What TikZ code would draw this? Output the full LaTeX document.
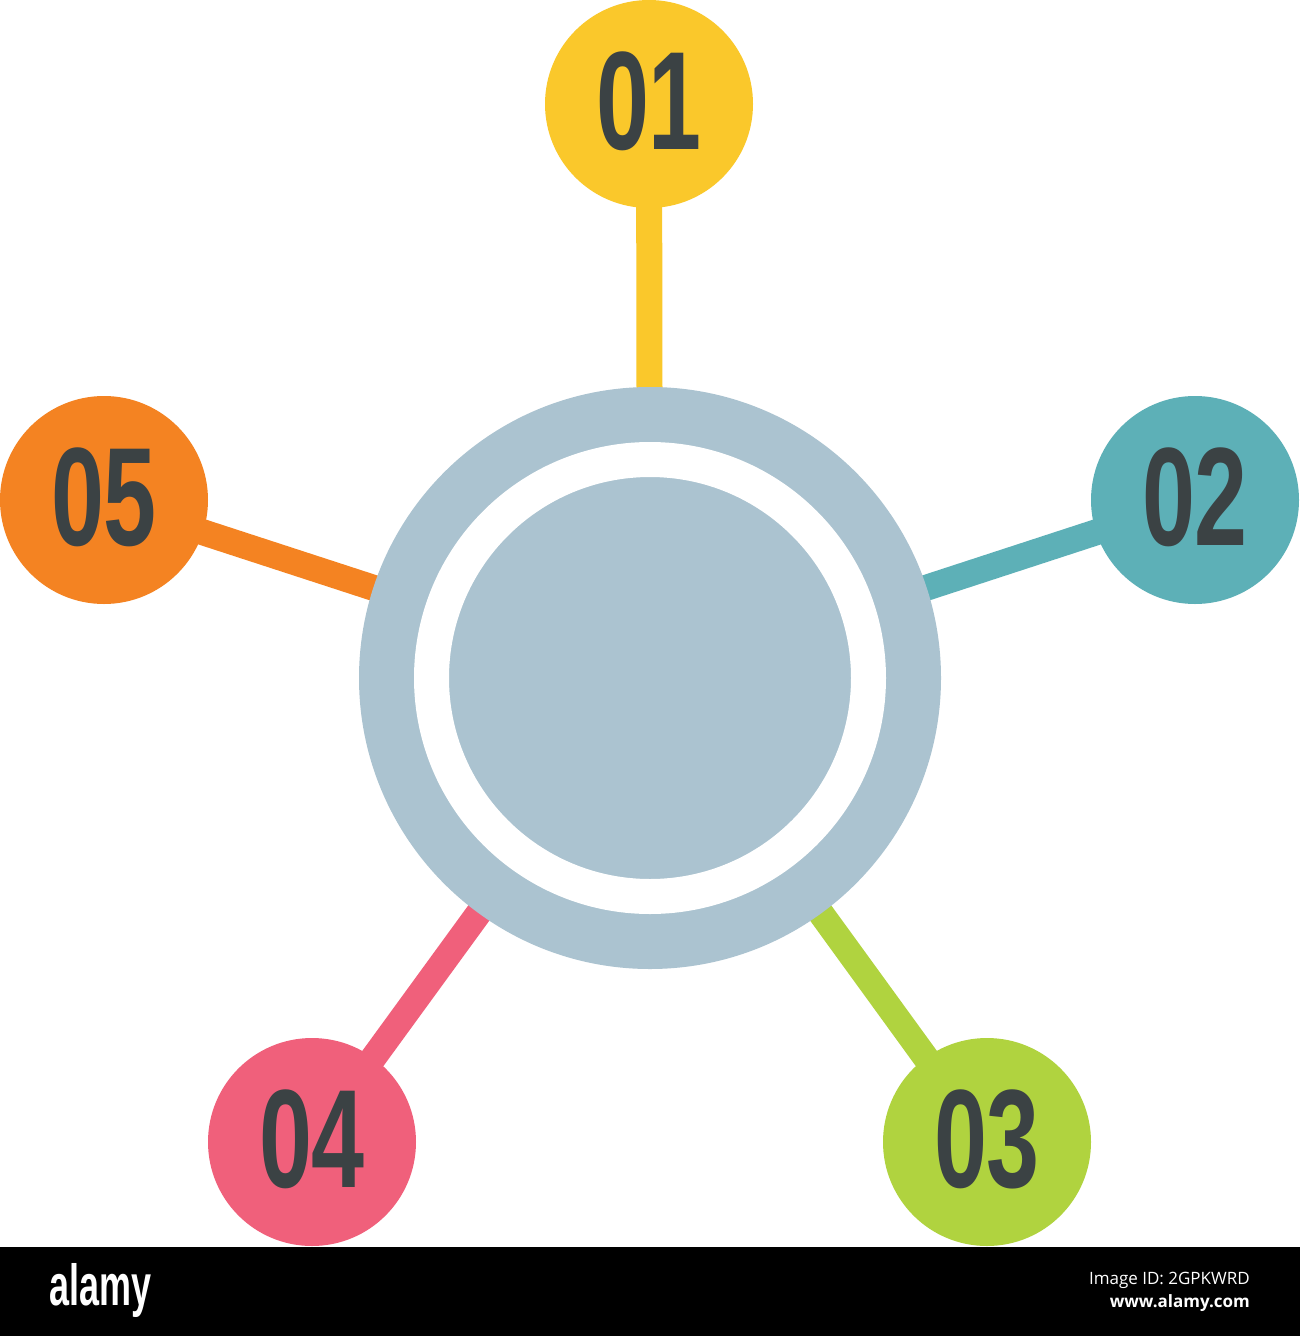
\documentclass[tikz,border=0pt]{standalone}
\usepackage{fontspec}
\setmainfont{Liberation Sans}
\newfontfamily\opensans{Open Sans}
\usetikzlibrary{backgrounds}
\definecolor{cyel}{HTML}{FAC82B}
\definecolor{cteal}{HTML}{5DB0B7}
\definecolor{cgreen}{HTML}{B0D33F}
\definecolor{cpink}{HTML}{F0607B}
\definecolor{corange}{HTML}{F48322}
\definecolor{cgray}{HTML}{ABC3D0}
\definecolor{cdigit}{HTML}{3B4244}
\tikzset{
  numnode/.style={circle, fill=#1, minimum size=208pt, inner sep=0pt, text=cdigit,
    font=\fontsize{140}{140}\selectfont\bfseries},
  link/.style={draw=#1, line width=26pt, line cap=butt},
}
\newcommand{\dg}[1]{\raisebox{7pt}{\scalebox{0.68}[1]{#1}}}
\begin{document}
\begin{tikzpicture}[x=1pt,y=-1pt]
\useasboundingbox (0,0) rectangle (1300,1336);
% center
\node[circle, fill=cgray, minimum size=582pt, inner sep=0pt] (c) at (650,678) {};
\draw[white, line width=35pt] (c.center) circle (218.5pt);
% numbered nodes
\node[numnode=cyel]    (n1) at (649,104)  {\dg{01}};
\node[numnode=cteal]   (n2) at (1195,500) {\dg{02}};
\node[numnode=cgreen]  (n3) at (987,1142) {\dg{03}};
\node[numnode=cpink]   (n4) at (312,1142) {\dg{04}};
\node[numnode=corange] (n5) at (104,500)  {\dg{05}};
\begin{scope}[on background layer]
\fill[white] (0,0) rectangle (1300,1247);
\draw[link=cyel]    (c.center) -- (n1.center);
\draw[link=cteal]   (c.center) -- (n2.center);
\draw[link=cgreen]  (c.center) -- (n3.center);
\draw[link=cpink]   (c.center) -- (n4.center);
\draw[link=corange] (c.center) -- (n5.center);
\end{scope}
% bottom bar
\fill[black] (0,1247) rectangle (1300,1336);
\node[anchor=base west, inner sep=0pt, text=white,
  font=\fontsize{58}{58}\selectfont\bfseries] (logo) at (49,1305) {\scalebox{0.62}[1]{alamy}};
\node[anchor=base east, inner sep=0pt, text=white,
  font=\opensans\fontsize{17}{17}\selectfont] (imgid) at (1250,1284) {Image ID: 2GPKWRD};
\node[anchor=base east, inner sep=0pt, text=white,
  font=\opensans\fontsize{17}{17}\selectfont\bfseries] (url) at (1250,1307) {www.alamy.com};
\end{tikzpicture}
\end{document}
